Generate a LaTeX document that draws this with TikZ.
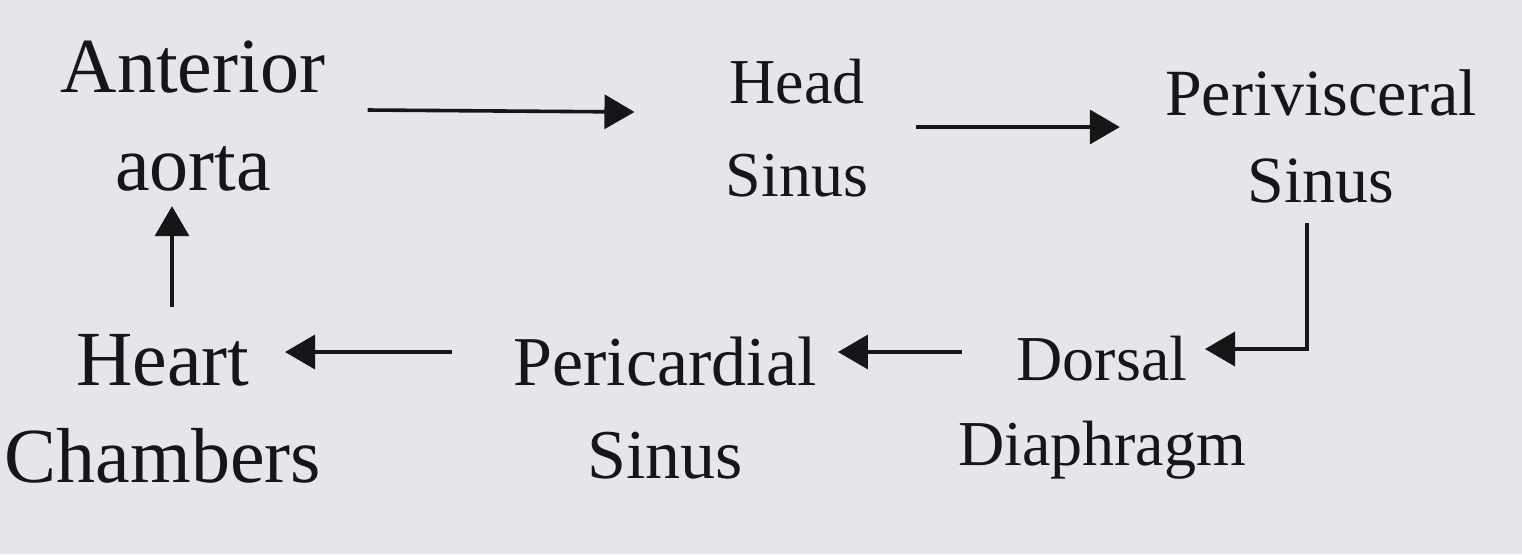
\documentclass[tikz,border=0pt]{standalone}
\usepackage{fontspec}
\setmainfont{Liberation Serif}
\usetikzlibrary{arrows.meta}
\definecolor{paper}{RGB}{229,230,233}
\definecolor{ink}{RGB}{22,22,24}
\begin{document}
\begin{tikzpicture}[x = 0.5pt, y = -0.5pt,
	lbl/.style 2 args = {anchor = base, align = center, inner sep = 0pt, text = ink,
		font = \fontsize{#1}{#2}\selectfont},
	flow/.style = {-{Triangle[length = 15pt, width = 17pt]}, line width = 1.8pt, draw = ink}]
	\fill[paper] (0,0) rectangle (1522,554);
	\useasboundingbox (0,0) rectangle (1522,554);
	
	\node[lbl = {39pt}{49pt}](ant) at (193,190) {Anterior\\aorta};
	\node[lbl = {32pt}{46.5pt}](head) at (797,196) {Head\\Sinus};
	\node[lbl = {33pt}{43.5pt}](peri) at (1321,202) {Perivisceral\\Sinus};
	\node[lbl = {39pt}{48.5pt}](heart) at (163,482) {Heart\\Chambers};
	\node[lbl = {35pt}{46.5pt}](card) at (665,478) {Pericardial\\Sinus};
	\node[lbl = {32pt}{42.5pt}](dors) at (1102,465) {Dorsal\\Diaphragm};
	
	\draw[flow] ([shift = {(21pt,40pt)}]ant.base east)
		-- ([shift = {(-45.5pt,42pt)}]head.base west);
	\draw[flow] ([shift = {(23.5pt,34.5pt)}]head.base east)
		-- ([shift = {(-22.5pt,37.5pt)}]peri.base west);
	\draw[flow] ([shift = {(-7pt,-10pt)}]peri.south)
		|- ([shift = {(51.5pt,58pt)}]dors.base);
	\draw[flow] ([shift = {(2pt,56.5pt)}]dors.base west)
		-- ([shift = {(10.5pt,63pt)}]card.base east);
	\draw[flow] ([shift = {(-30.5pt,63pt)}]card.base west)
		-- ([shift = {(61pt,65pt)}]heart.base);
	\draw[flow] ([shift = {(4.5pt,87.5pt)}]heart.base)
		-- ([shift = {(-10.5pt,-7.5pt)}]ant.south);
\end{tikzpicture}
\end{document}
